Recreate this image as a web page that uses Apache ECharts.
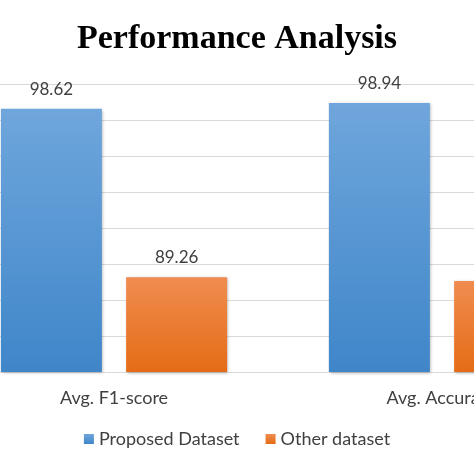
<!DOCTYPE html>
<html>
<head>
<meta charset="utf-8">
<script src="https://cdn.jsdelivr.net/npm/echarts@6/dist/echarts.min.js"></script>
<style>
  html, body { margin: 0; padding: 0; background: #fff; }
  #chart { width: 474px; height: 474px; }
</style>
</head>
<body>
<div id="chart"></div>
<script>
// chart data
var categories = ['Avg. F1-score', 'Avg. Accuracy'];
var proposedValues = [98.62, 98.94];
var otherValues = [89.26, 89.05];
var seriesNames = ['Proposed Dataset', 'Other dataset'];

var chart = echarts.init(document.getElementById('chart'));

function barGradient(top, bottom) {
  return new echarts.graphic.LinearGradient(0, 0, 0, 1, [
    { offset: 0, color: top },
    { offset: 1, color: bottom }
  ]);
}

var labelStyle = {
  show: true,
  position: 'top',
  distance: 11,
  color: '#404040',
  fontSize: 17,
  fontFamily: 'Lato'
};

chart.setOption({
  animation: false,
  title: {
    text: 'Performance Analysis',
    left: 'center',
    top: 17,
    textStyle: {
      fontFamily: 'Liberation Serif',
      fontWeight: 'bold',
      fontSize: 34,
      color: '#000'
    }
  },
  legend: {
    data: seriesNames,
    bottom: 21,
    left: 'center',
    itemWidth: 10,
    itemHeight: 10,
    itemGap: 26,
    icon: 'rect',
    textStyle: {
      color: '#404040',
      fontSize: 18,
      fontFamily: 'Lato'
    }
  },
  grid: {
    left: -50,
    right: -132,
    top: 84,
    bottom: 102,
    containLabel: false,
    outerBoundsMode: 'none'
  },
  xAxis: {
    type: 'category',
    data: categories,
    axisTick: { show: false },
    axisLine: { lineStyle: { color: '#d9d9d9', width: 1 } },
    axisLabel: {
      margin: 17,
      color: '#404040',
      fontSize: 18,
      fontFamily: 'Lato'
    }
  },
  yAxis: {
    type: 'value',
    min: 84,
    max: 100,
    interval: 2,
    axisLabel: { show: false },
    axisLine: { show: false },
    axisTick: { show: false },
    splitLine: { lineStyle: { color: '#d9d9d9', width: 1 } }
  },
  series: [
    {
      name: seriesNames[0],
      type: 'bar',
      data: proposedValues,
      barWidth: 101,
      barGap: '24%',
      color: '#5b9bd5',
      itemStyle: {
        color: barGradient('#6fa6dc', '#3f86c9'),
        shadowBlur: 3,
        shadowColor: 'rgba(0,0,0,0.3)',
        shadowOffsetX: 1,
        shadowOffsetY: 1
      },
      label: labelStyle
    },
    {
      name: seriesNames[1],
      type: 'bar',
      data: otherValues,
      barWidth: 101,
      color: '#ed7d31',
      itemStyle: {
        color: barGradient('#f08c50', '#e56c16'),
        shadowBlur: 3,
        shadowColor: 'rgba(0,0,0,0.3)',
        shadowOffsetX: 1,
        shadowOffsetY: 1
      },
      label: labelStyle
    }
  ]
});
</script>
</body>
</html>
